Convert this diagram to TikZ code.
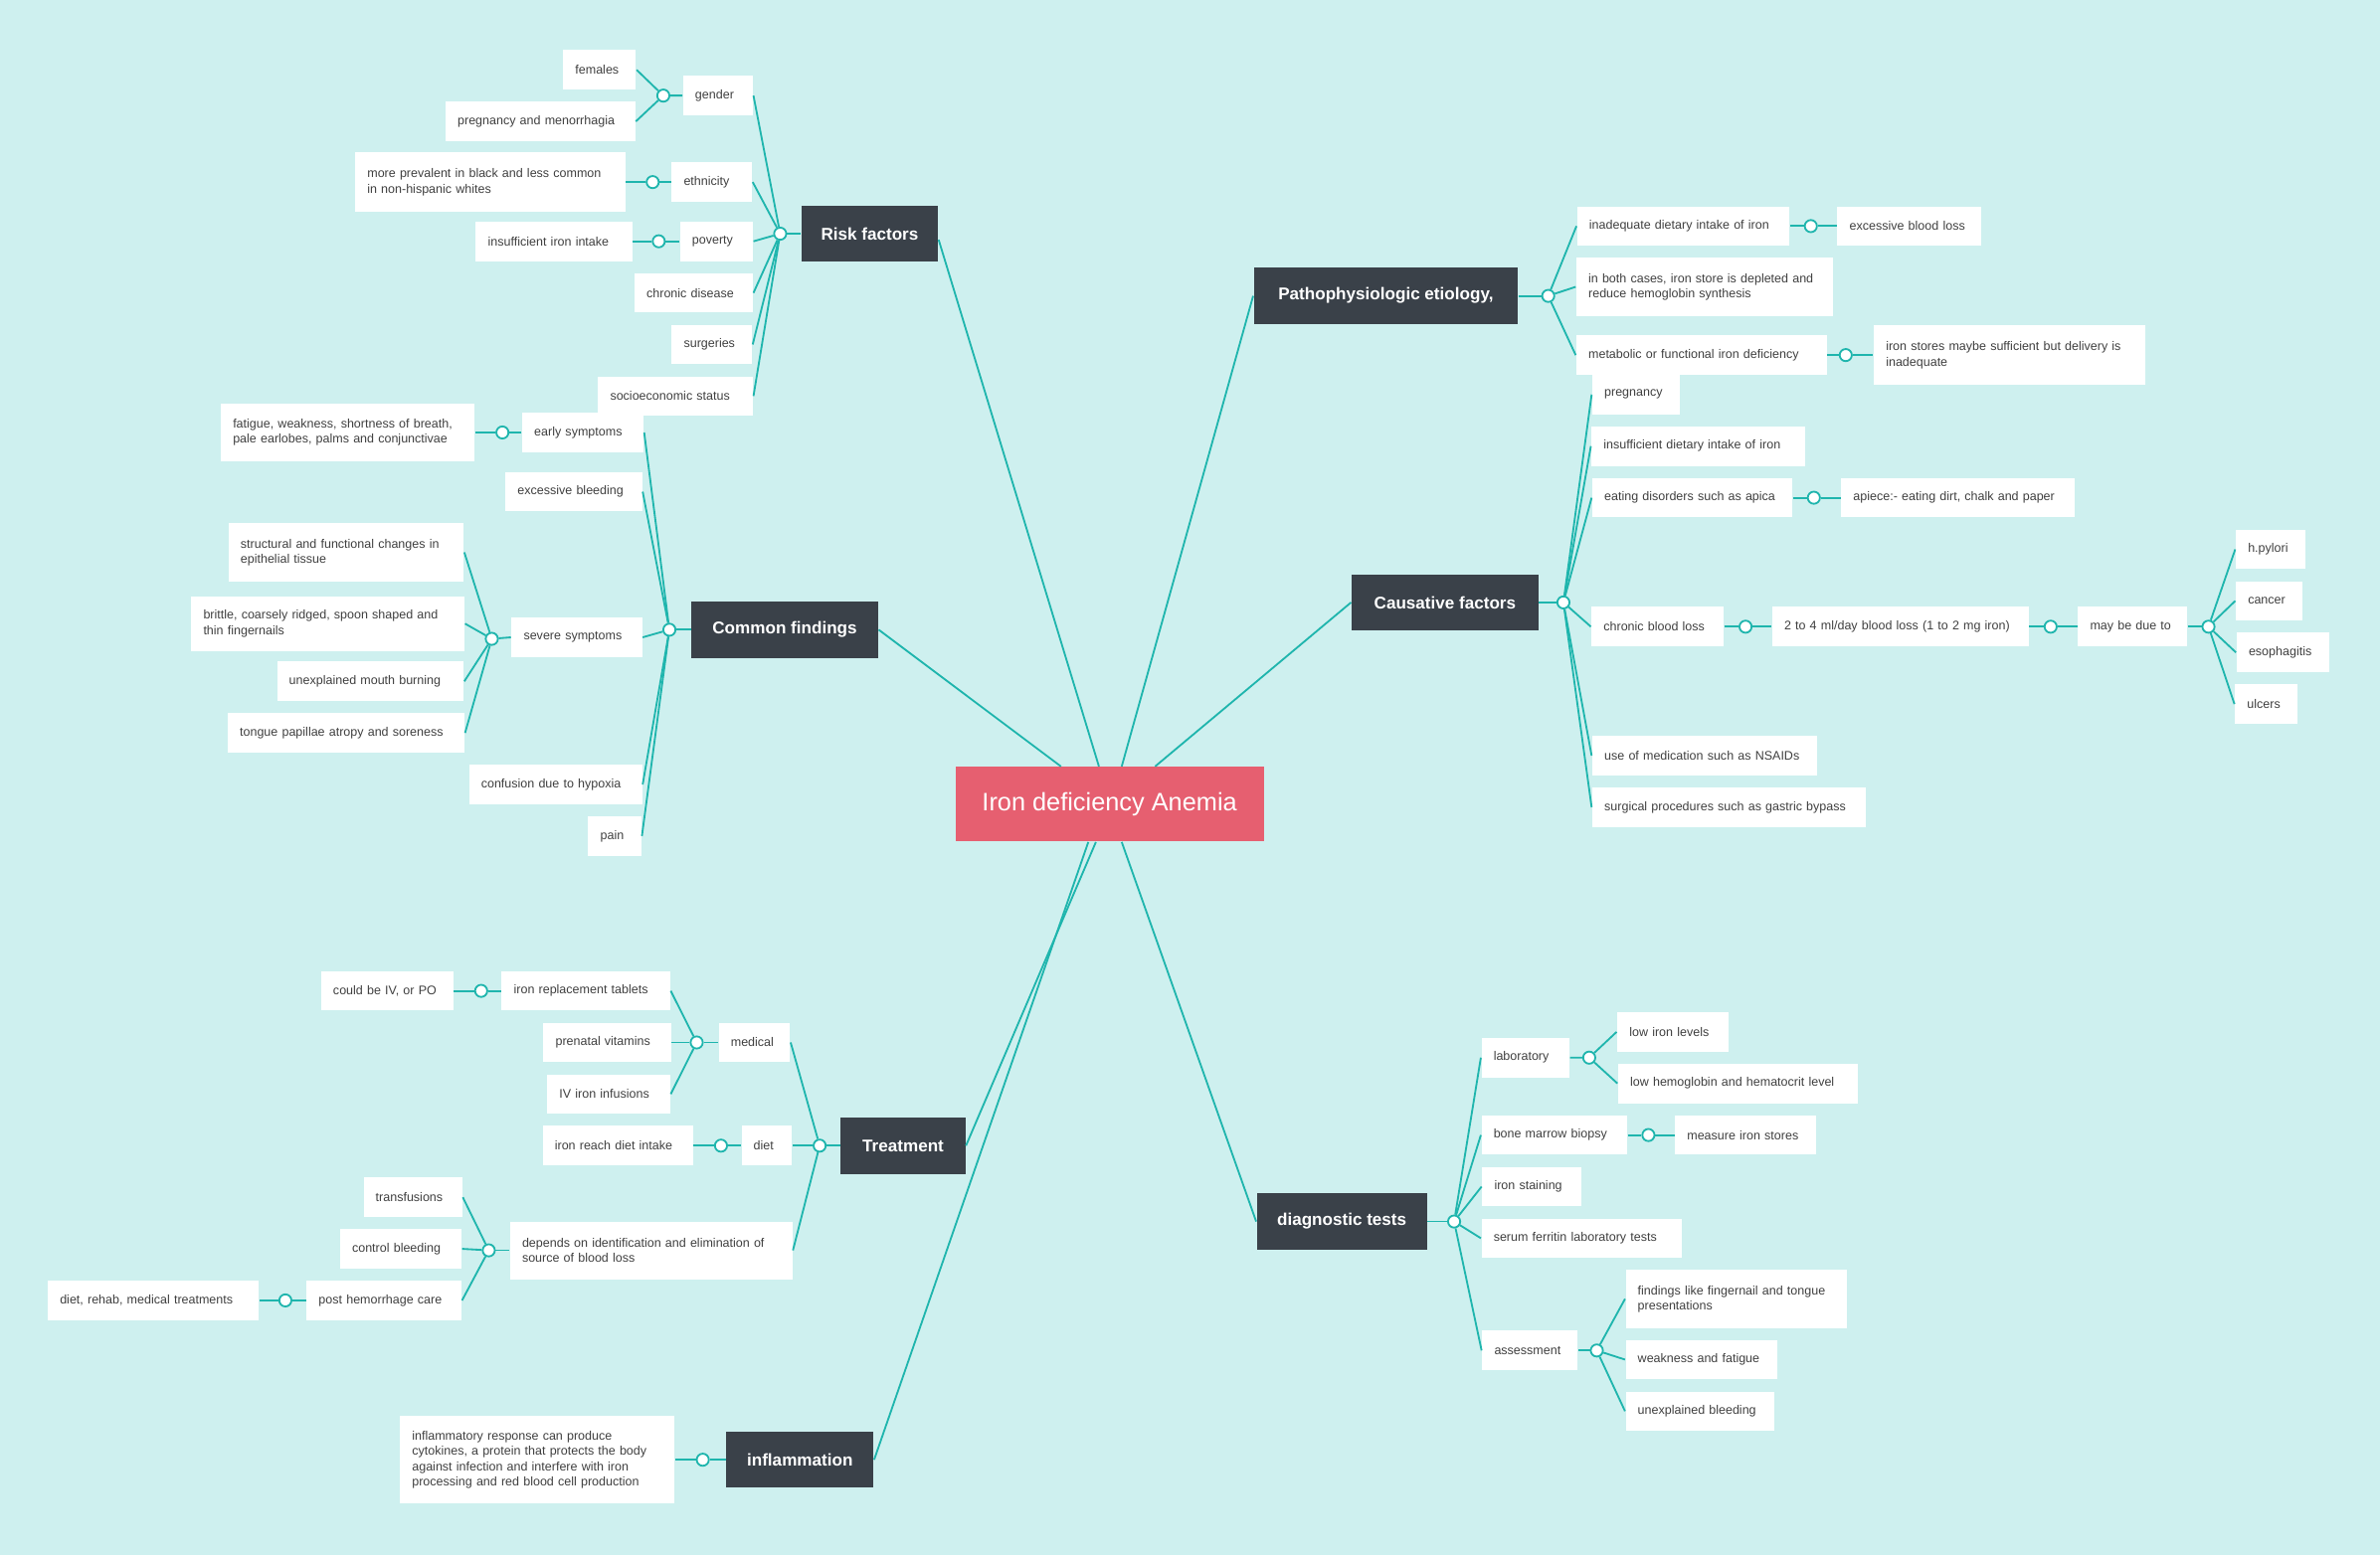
\documentclass[tikz,border=0pt]{standalone}
\usepackage{fontspec}
\setmainfont{Liberation Sans}
\definecolor{bg}{HTML}{CEF0EF}
\definecolor{teal}{HTML}{1FB5AD}
\definecolor{dk}{HTML}{3A4149}
\definecolor{pk}{HTML}{E65F70}
\tikzset{
 leaf/.style={fill=white,draw=none,inner xsep=4pt,inner ysep=0pt,align=left,font=\fontsize{4.1}{5}\selectfont,text=black!75},
 br/.style={fill=dk,text=white,font=\fontsize{5.6}{7}\selectfont\bfseries,minimum height=18.5pt,inner xsep=5pt},
 hub/.style={circle,draw=teal,fill=white,line width=0.6pt,minimum size=4pt,inner sep=0pt},
 ln/.style={draw=teal,line width=0.6pt}
}
\newcommand\bx[6]{\node[leaf,minimum width=#4*0.5pt,minimum height=#5*0.5pt,text width=(#4-14)*0.5pt] (#1) at (#2,#3) {#6};}
\newcommand\hb[3]{\node[hub] (#1) at (#2,#3) {};}
\begin{document}
\begin{tikzpicture}[x=0.5pt,y=-0.5pt]
\fill[bg] (0,0) rectangle (1568,1025);
\useasboundingbox (0,0) rectangle (1568,1025);
\node[fill=pk,text=white,font=\fontsize{8.3}{10}\selectfont,minimum width=101.5pt,minimum height=24.5pt] (C) at (731,530) {Iron deficiency Anemia};
% Risk factors
\node[br,minimum width=45pt] (R) at (573,154) {Risk factors};
\hb{hR}{514}{154}
\bx{r1}{473}{63}{44}{26}{gender}
\hb{h1}{437}{63}
\bx{r11}{395}{46}{46}{26}{females}
\bx{r12}{356}{80}{123}{26}{pregnancy and menorrhagia}
\bx{r2}{469}{120}{51}{26}{ethnicity}
\hb{h2}{430}{120}
\bx{r21}{323}{120}{176}{39}{more prevalent in black  and less common\\in non-hispanic whites}
\bx{r3}{472}{159}{46}{26}{poverty}
\hb{h3}{434}{159}
\bx{r31}{365}{159}{101}{26}{insufficient iron intake}
\bx{r4}{457}{193}{76}{26}{chronic disease}
\bx{r5}{469}{227}{51}{26}{surgeries}
\bx{r6}{445}{261}{100}{26}{socioeconomic status}
\draw[ln] (R.west)--(hR);
\foreach \c in {r1,r2,r3,r4,r5,r6}{\draw[ln] (hR)--(\c.east);}
\draw[ln] (r1.west)--(h1) (h1)--(r11.east) (h1)--(r12.east);
\draw[ln] (r2.west)--(h2) (h2)--(r21.east);
\draw[ln] (r3.west)--(h3) (h3)--(r31.east);
% Common findings
\node[br,minimum width=61.5pt] (F) at (517,415) {Common findings};
\hb{hF}{441}{415}
\bx{f1}{384}{285}{78}{26}{early symptoms}
\hb{hf1}{331}{285}
\bx{f11}{229}{285}{165}{38}{fatigue, weakness, shortness of breath,\\pale earlobes, palms and conjunctivae}
\bx{f2}{378}{324}{88}{26}{excessive bleeding}
\bx{f3}{380}{420}{84}{26}{severe symptoms}
\hb{hf3}{324}{421}
\bx{f31}{228}{364}{153}{39}{structural and functional changes in\\epithelial tissue}
\bx{f32}{216}{411}{178}{36}{brittle, coarsely ridged, spoon shaped  and\\thin fingernails}
\bx{f33}{244}{449}{121}{26}{unexplained mouth burning}
\bx{f34}{228}{483}{154}{26}{tongue papillae atropy and soreness}
\bx{f4}{366}{517}{112}{26}{confusion due to hypoxia}
\bx{f5}{405}{551}{33}{26}{pain}
\draw[ln] (F.west)--(hF);
\foreach \c in {f1,f2,f3,f4,f5}{\draw[ln] (hF)--(\c.east);}
\draw[ln] (f1.west)--(hf1) (hf1)--(f11.east);
\draw[ln] (f3.west)--(hf3);
\foreach \c in {f31,f32,f33,f34}{\draw[ln] (hf3)--(\c.east);}
% Pathophysiologic
\node[br,minimum width=87pt] (P) at (913,195) {Pathophysiologic etiology,};
\hb{hP}{1020}{195}
\bx{p1}{1109}{149}{138}{26}{inadequate dietary intake of iron}
\hb{hp1}{1193}{149}
\bx{p11}{1258}{149}{93}{26}{excessive blood loss}
\bx{p2}{1123}{189}{167}{39}{in both cases, iron store is depleted and\\reduce hemoglobin synthesis}
\bx{p3}{1121}{234}{163}{26}{metabolic or functional iron deficiency}
\hb{hp3}{1216}{234}
\bx{p31}{1324}{234}{177}{39}{iron stores maybe sufficient but delivery is\\inadequate}
\draw[ln] (P.east)--(hP);
\foreach \c in {p1,p2,p3}{\draw[ln] (hP)--(\c.west);}
\draw[ln] (p1.east)--(hp1) (hp1)--(p11.west);
\draw[ln] (p3.east)--(hp3) (hp3)--(p31.west);
% Causative
\node[br,minimum width=61.5pt] (K) at (952,397) {Causative factors};
\hb{hK}{1030}{397}
\bx{k1}{1078}{260}{56}{26}{pregnancy}
\bx{k2}{1119}{294}{139}{26}{insufficient dietary intake of iron}
\bx{k3}{1115}{328}{130}{26}{eating disorders such as apica}
\hb{hk3}{1195}{328}
\bx{k31}{1290}{328}{152}{26}{apiece:- eating dirt, chalk and paper}
\bx{k4}{1092}{413}{85}{26}{chronic blood loss}
\hb{hk4}{1150}{413}
\bx{k41}{1252}{413}{167}{26}{2 to 4 ml/day blood loss (1 to 2 mg iron)}
\hb{hk41}{1351}{413}
\bx{k42}{1405}{413}{70}{26}{may be due to}
\hb{hk42}{1455}{413}
\bx{m1}{1496}{362}{44}{26}{h.pylori}
\bx{m2}{1495}{396}{42}{26}{cancer}
\bx{m3}{1504}{430}{59}{26}{esophagitis}
\bx{m4}{1493}{464}{39}{26}{ulcers}
\bx{k5}{1123}{498}{146}{26}{use of medication such as NSAIDs}
\bx{k6}{1139}{532}{178}{26}{surgical procedures such as gastric bypass}
\draw[ln] (K.east)--(hK);
\foreach \c in {k1,k2,k3,k4,k5,k6}{\draw[ln] (hK)--(\c.west);}
\draw[ln] (k3.east)--(hk3) (hk3)--(k31.west);
\draw[ln] (k4.east)--(hk4) (hk4)--(k41.west) (k41.east)--(hk41) (hk41)--(k42.west) (k42.east)--(hk42);
\foreach \c in {m1,m2,m3,m4}{\draw[ln] (hk42)--(\c.west);}
% diagnostic
\node[br,minimum width=56pt] (D) at (884,805) {diagnostic tests};
\hb{hD}{958}{805}
\bx{d1}{1005}{697}{56}{26}{laboratory}
\hb{hd1}{1047}{697}
\bx{d11}{1102}{680}{71}{26}{low  iron levels}
\bx{d12}{1145}{714}{156}{26}{low hemoglobin and hematocrit level}
\bx{d2}{1024}{748}{94}{26}{bone marrow biopsy}
\hb{hd2}{1086}{748}
\bx{d21}{1150}{748}{91}{26}{measure iron stores}
\bx{d3}{1009}{782}{63}{26}{iron staining}
\bx{d4}{1042}{816}{130}{26}{serum ferritin laboratory tests}
\bx{d5}{1008}{890}{61}{26}{assessment}
\hb{hd5}{1052}{890}
\bx{d51}{1144}{856}{144}{39}{findings like fingernail and tongue\\presentations}
\bx{d52}{1121}{896}{98}{26}{weakness and fatigue}
\bx{d53}{1120}{930}{96}{26}{unexplained bleeding}
\draw[ln] (D.east)--(hD);
\foreach \c in {d1,d2,d3,d4,d5}{\draw[ln] (hD)--(\c.west);}
\draw[ln] (d1.east)--(hd1) (hd1)--(d11.west) (hd1)--(d12.west);
\draw[ln] (d2.east)--(hd2) (hd2)--(d21.west);
\draw[ln] (d5.east)--(hd5);
\foreach \c in {d51,d52,d53}{\draw[ln] (hd5)--(\c.west);}
% Treatment
\node[br,minimum width=41pt] (T) at (595,755) {Treatment};
\hb{hT}{540}{755}
\bx{t1}{497}{687}{45}{26}{medical}
\hb{ht1}{459}{687}
\bx{t11}{386}{653}{109}{26}{iron replacement tablets}
\hb{ht11}{317}{653}
\bx{t111}{255}{653}{85}{26}{could be IV, or PO}
\bx{t12}{400}{687}{82}{26}{prenatal vitamins}
\bx{t13}{401}{721}{79}{26}{IV iron infusions}
\bx{t2}{505}{755}{31}{26}{diet}
\hb{ht2}{475}{755}
\bx{t21}{407}{755}{97}{26}{iron reach diet intake}
\bx{t3}{429}{824}{184}{38}{depends on identification and elimination of\\source of blood loss}
\hb{ht3}{322}{824}
\bx{t31}{272}{789}{63}{26}{transfusions}
\bx{t32}{264}{823}{78}{26}{control bleeding}
\bx{t33}{253}{857}{100}{26}{post hemorrhage care}
\hb{ht33}{188}{857}
\bx{t331}{101}{857}{137}{26}{diet, rehab,  medical treatments}
\draw[ln] (T.west)--(hT);
\foreach \c in {t1,t2,t3}{\draw[ln] (hT)--(\c.east);}
\draw[ln] (t1.west)--(ht1);
\foreach \c in {t11,t12,t13}{\draw[ln] (ht1)--(\c.east);}
\draw[ln] (t11.west)--(ht11) (ht11)--(t111.east);
\draw[ln] (t2.west)--(ht2) (ht2)--(t21.east);
\draw[ln] (t3.west)--(ht3);
\foreach \c in {t31,t32,t33}{\draw[ln] (ht3)--(\c.east);}
\draw[ln] (t33.west)--(ht33) (ht33)--(t331.east);
% inflammation
\node[br,minimum width=48.5pt] (I) at (527,962) {inflammation};
\hb{hI}{463}{962}
\bx{i1}{354}{962}{179}{58}{inflammatory response can produce\\cytokines, a protein that protects the body\\against infection and interfere with iron\\processing and red blood cell production}
\draw[ln] (I.west)--(hI) (hI)--(i1.east);
% main connectors
\draw[ln] ([xshift=-3.5pt]C.north)--([yshift=-2pt]R.east);
\draw[ln] ([xshift=4pt]C.north)--(P.west);
\draw[ln] ([xshift=15pt]C.north)--(K.west);
\draw[ln] ([xshift=-16pt]C.north)--(F.east);
\draw[ln] ([xshift=4pt]C.south)--(D.west);
\draw[ln] ([xshift=-4.5pt]C.south)--(T.east);
\draw[ln] ([xshift=-7pt]C.south)--(I.east);
\end{tikzpicture}
\end{document}
